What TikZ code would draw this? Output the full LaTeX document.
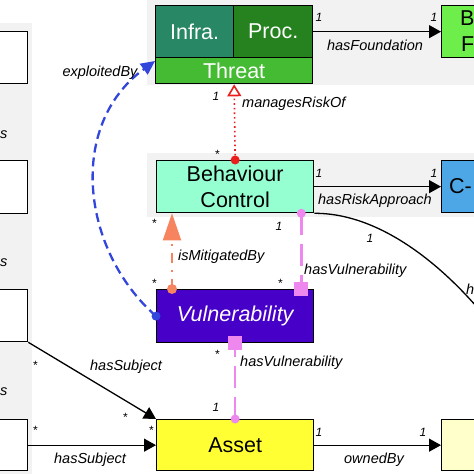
\documentclass[tikz,border=0pt]{standalone}
\usepackage{fontspec}
\setmainfont{Liberation Sans}
\usetikzlibrary{arrows.meta}
\definecolor{panelgray}{RGB}{242,242,242}
\definecolor{infracol}{RGB}{40,135,100}
\definecolor{proccol}{RGB}{38,130,30}
\definecolor{threatcol}{RGB}{68,187,51}
\definecolor{bfcol}{RGB}{110,238,75}
\definecolor{bccol}{RGB}{150,255,210}
\definecolor{ccol}{RGB}{77,166,230}
\definecolor{vulcol}{RGB}{70,0,200}
\definecolor{assetcol}{RGB}{255,255,51}
\definecolor{ownercol}{RGB}{255,255,204}
\definecolor{pinkcol}{RGB}{238,136,238}
\definecolor{orangecol}{RGB}{245,132,95}
\definecolor{redcol}{RGB}{235,30,30}
\definecolor{bluecol}{RGB}{50,70,220}
\tikzset{
  box/.style={draw=black, line width=1.3pt, inner sep=0pt, anchor=north west,
    font=\fontsize{21.5}{26}\selectfont, align=center},
  lbl/.style={font=\itshape\fontsize{14.5}{16}\selectfont, inner sep=0pt},
  mult/.style={font=\itshape\fontsize{12}{13}\selectfont, inner sep=0pt},
  conn/.style={line width=1.3pt},
  blacktip/.style={-{Triangle[length=12pt,width=13pt]}},
}
\begin{document}
\begin{tikzpicture}[x=1pt,y=-1pt]
\useasboundingbox (0,0) rectangle (474,474);
\clip (0,0) rectangle (474,474);
% background panels
\fill[panelgray] (147,0) rectangle (480,85);
\fill[panelgray] (147,153) rectangle (480,217);
\fill[panelgray] (-5,23) rectangle (32,480);
% left column boxes
\node[box, fill=white, minimum width=40pt, minimum height=52pt] (L1) at (-13,31) {};
\node[box, fill=white, minimum width=40pt, minimum height=53pt] (L2) at (-13,160) {};
\node[box, fill=white, minimum width=40pt, minimum height=52pt] (L3) at (-13,289) {};
\node[box, fill=white, minimum width=40pt, minimum height=51pt] (L4) at (-13,419) {};
% threat composite
\node[box, fill=infracol, text=white, minimum width=78pt, minimum height=52pt] (Infra) at (155,5) {Infra.};
\node[box, fill=proccol, text=white, minimum width=79pt, minimum height=52pt] (Proc) at (233,5) {Proc.};
\node[box, fill=threatcol, text=white, minimum width=157pt, minimum height=26pt] (Threat) at (155,57) {Threat};
% right column boxes
\node[box, fill=bfcol, minimum width=60pt, minimum height=52pt] (BF) at (441,5) {};
\node[anchor=west, inner sep=0pt, font=\fontsize{21.5}{26}\selectfont] (BFt1) at (460,18) {B};
\node[anchor=west, inner sep=0pt, font=\fontsize{21.5}{26}\selectfont] (BFt2) at (461,44) {F};
\node[box, fill=ccol, minimum width=60pt, minimum height=52pt] (C) at (441,160) {};
\node[anchor=west, inner sep=0pt, font=\fontsize{21.5}{26}\selectfont] (Ct) at (449,186) {C-};
\node[box, fill=ownercol, minimum width=60pt, minimum height=51pt] (Owner) at (441,419) {};
% central boxes
\node[box, fill=bccol, minimum width=157pt, minimum height=52pt] (BC) at (156,160) {Behaviour\\Control};
\node[box, fill=vulcol, text=white, font=\itshape\fontsize{21.5}{26}\selectfont, minimum width=157pt, minimum height=53pt] (Vul) at (156,289) {Vulnerability};
\node[box, fill=assetcol, minimum width=157pt, minimum height=51pt] (Asset) at (156,419) {Asset};
\coordinate (offR) at (476,306);
% connectors
\draw[conn, blacktip] (Proc.east) -- (BF.west);
\draw[conn, blacktip] (BC.east) -- (C.west);
\draw[conn, blacktip] (Asset.east) -- (Owner.west);
\draw[conn, blacktip] (L3.south east) -- (Asset.north west);
\draw[conn, blacktip] (L4.east) -- (Asset.west);
\draw[conn] (BC.south east) .. controls (380,213) and (440,265) .. (offR);
% managesRiskOf
\draw[redcol, line width=1.6pt, dash pattern=on 1.6pt off 3pt,
  -{Triangle[open, length=12pt, width=14pt, line width=1.6pt, fill=white]}] (BC.north) -- (Threat.south);
\fill[redcol] (BC.north) circle (4.5pt);
% isMitigatedBy
\draw[orangecol, line width=2pt, dash pattern=on 10pt off 7pt on 2pt off 7pt,
  -{Triangle[length=27pt, width=18pt]}] ([xshift=16pt]Vul.north west) -- ([xshift=16pt]BC.south west);
\fill[orangecol] ([xshift=16pt]Vul.north west) circle (5pt);
% hasVulnerability (BC)
\draw[pinkcol, line width=2.6pt, dash pattern=on 22pt off 9pt] ([xshift=-13pt]BC.south east) -- ([xshift=-13pt]Vul.north east);
\fill[pinkcol] ([xshift=-13pt]BC.south east) circle (4.5pt);
\fill[pinkcol] ([xshift=-13pt]Vul.north east) +(-7,-7) rectangle +(7,7);
% hasVulnerability (Asset)
\draw[pinkcol, line width=2.6pt, dash pattern=on 22pt off 9pt] (Asset.north) -- (Vul.south);
\fill[pinkcol] (Asset.north) circle (4.5pt);
\fill[pinkcol] (Vul.south) +(-7,-7) rectangle +(7,7);
% exploitedBy
\draw[bluecol, line width=2.3pt, dash pattern=on 9pt off 5pt,
  -{Triangle[length=14pt, width=13pt]}] (Vul.west) .. controls (81,250) and (67,125) .. ([yshift=-4pt]Threat.north west);
\fill[bluecol] (Vul.west) circle (4.5pt);
% labels
\node[lbl] (lF) at (375,45) {hasFoundation};
\node[lbl, anchor=west] (lM) at (242,104) {managesRiskOf};
\node[lbl] (lR) at (375,201) {hasRiskApproach};
\node[lbl, anchor=west] (lI) at (178,257) {isMitigatedBy};
\node[lbl, anchor=west] (lV1) at (304,271) {hasVulnerability};
\node[lbl, anchor=west] (lV2) at (240,363) {hasVulnerability};
\node[lbl] (lE) at (100,73) {exploitedBy};
\node[lbl] (lS1) at (126,367) {hasSubject};
\node[lbl] (lS2) at (90,460) {hasSubject};
\node[lbl] (lO) at (374,460) {ownedBy};
\node[lbl, anchor=west] (lh) at (466,289) {h};
\node[lbl, anchor=west] (ls1) at (0,135) {s};
\node[lbl, anchor=west] (ls2) at (0,263) {s};
\node[lbl, anchor=west] (ls3) at (0,392) {s};
% multiplicities
\node[mult] (m1) at (319,17) {1};
\node[mult] (m2) at (434,17) {1};
\node[mult] (m3) at (319,173) {1};
\node[mult] (m4) at (434,173) {1};
\node[mult] (m5) at (319,432) {1};
\node[mult] (m6) at (423,432) {1};
\node[mult] (m7) at (216,96) {1};
\node[mult] (m8) at (217,154) {*};
\node[mult] (m9) at (154,223) {*};
\node[mult] (m10) at (154,283) {*};
\node[mult] (m11) at (279,226) {1};
\node[mult] (m12) at (280,283) {*};
\node[mult] (m13) at (370,238) {1};
\node[mult] (m14) at (217,354) {*};
\node[mult] (m15) at (216,407) {1};
\node[mult] (m16) at (35,365) {*};
\node[mult] (m17) at (125,417) {*};
\node[mult] (m18) at (35,430) {*};
\node[mult] (m19) at (151,430) {*};
\end{tikzpicture}
\end{document}
